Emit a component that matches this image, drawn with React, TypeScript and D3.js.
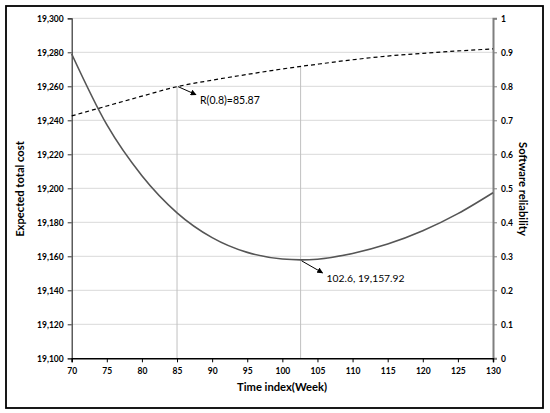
import React, { useEffect, useRef } from "react";
import * as d3 from "d3";

// time index (weeks) and the two series
const weeks = [70, 75, 80, 85, 90, 95, 100, 102.6, 105, 110, 115, 120, 125, 130];
const totalCost = [
  19279, 19237.4, 19207.4, 19185.6, 19171, 19162.3, 19158.4, 19157.92, 19158.3,
  19161.7, 19167.2, 19175, 19185.1, 19197.4,
];
const relWeeks = [70, 75, 80, 85, 90, 95, 100, 105, 110, 115, 120, 125, 130];
const reliability = [
  0.713, 0.742, 0.771, 0.799, 0.818, 0.835, 0.851, 0.865, 0.878, 0.889, 0.897,
  0.904, 0.91,
];
const costTicks = d3.range(19100, 19301, 20);
const relTicks = d3.range(0, 11).map((d) => d / 10);
const weekTicks = d3.range(70, 131, 5);

const relMark = { week: 85, label: "R(0.8)=85.87" };
const minMark = { week: 102.6, cost: 19157.92, label: "102.6, 19,157.92" };

const font = "Lato, 'Open Sans', sans-serif";

const App: React.FC = () => {
  const ref = useRef<SVGSVGElement | null>(null);

  useEffect(() => {
    const svg = d3.select(ref.current);
    svg.selectAll("*").remove();

    const left = 71.7;
    const right = 493;
    const top = 18.3;
    const bottom = 358.3;

    const x = d3.scaleLinear().domain([70, 130]).range([left, right]);
    const y = d3.scaleLinear().domain([19100, 19300]).range([bottom, top]);
    const yr = d3.scaleLinear().domain([0, 1]).range([bottom, top]);

    svg.append("rect").attr("width", 550).attr("height", 413).attr("fill", "#fff");
    svg
      .append("rect")
      .attr("x", 6)
      .attr("y", 6)
      .attr("width", 537)
      .attr("height", 402)
      .attr("fill", "none")
      .attr("stroke", "#000")
      .attr("stroke-width", 1.8);

    // horizontal gridlines
    svg
      .append("g")
      .selectAll("line")
      .data(costTicks.slice(1))
      .enter()
      .append("line")
      .attr("x1", left)
      .attr("x2", right)
      .attr("y1", (d) => y(d))
      .attr("y2", (d) => y(d))
      .attr("stroke", "#d9d9d9")
      .attr("stroke-width", 1);

    const relAt = d3.scaleLinear().domain(relWeeks).range(reliability);

    // marker drop lines
    [relMark.week, minMark.week].forEach((w) => {
      svg
        .append("line")
        .attr("x1", x(w))
        .attr("x2", x(w))
        .attr("y1", yr(relAt(w)))
        .attr("y2", bottom)
        .attr("stroke", "#c0c0c0")
        .attr("stroke-width", 1);
    });

    // axes
    const axisText = (g: d3.Selection<SVGGElement, unknown, null, undefined>) =>
      g
        .selectAll("text")
        .attr("font-family", font)
        .attr("font-weight", "bold")
        .attr("font-size", 8.5)
        .attr("fill", "#000");

    const gl = svg
      .append("g")
      .attr("transform", `translate(${left},0)`)
      .call(
        d3
          .axisLeft(y)
          .tickValues(costTicks)
          .tickSize(4)
          .tickPadding(4)
          .tickFormat((d) => d3.format(",")(d as number))
      );
    gl.select(".domain").attr("stroke", "#333").attr("stroke-width", 1.2);
    gl.selectAll(".tick line").attr("stroke", "#333");
    axisText(gl);

    const gr = svg
      .append("g")
      .attr("transform", `translate(${right},0)`)
      .call(
        d3
          .axisRight(yr)
          .tickValues(relTicks)
          .tickSize(4)
          .tickPadding(4)
          .tickFormat((d) => String(+(d as number).toFixed(1)))
      );
    gr.select(".domain").attr("stroke", "#7f7f7f").attr("stroke-width", 2);
    gr.selectAll(".tick line").attr("stroke", "#7f7f7f");
    axisText(gr);

    const gb = svg
      .append("g")
      .attr("transform", `translate(0,${bottom})`)
      .call(d3.axisBottom(x).tickValues(weekTicks).tickSize(4).tickPadding(6));
    gb.select(".domain").attr("stroke", "#000").attr("stroke-width", 1.5);
    gb.selectAll(".tick line").attr("stroke", "#000");
    axisText(gb);

    // series
    const costLine = d3
      .line<number>()
      .x((d, i) => x(weeks[i]))
      .y((d) => y(d))
      .curve(d3.curveMonotoneX);
    svg
      .append("path")
      .attr("d", costLine(totalCost))
      .attr("fill", "none")
      .attr("stroke", "#555")
      .attr("stroke-width", 1.6);

    const relLine = d3
      .line<number>()
      .x((d, i) => x(relWeeks[i]))
      .y((d) => yr(d))
      .curve(d3.curveMonotoneX);
    svg
      .append("path")
      .attr("d", relLine(reliability))
      .attr("fill", "none")
      .attr("stroke", "#000")
      .attr("stroke-width", 1.2)
      .attr("stroke-dasharray", "4,3");

    // annotation arrows
    const defs = svg.append("defs");
    defs
      .append("marker")
      .attr("id", "arrow")
      .attr("viewBox", "0 0 10 10")
      .attr("refX", 9)
      .attr("refY", 5)
      .attr("markerWidth", 6)
      .attr("markerHeight", 6)
      .attr("orient", "auto")
      .append("path")
      .attr("d", "M0,0L10,5L0,10Z")
      .attr("fill", "#000");

    const arrow = (x1: number, y1: number, x2: number, y2: number) =>
      svg
        .append("line")
        .attr("x1", x1)
        .attr("y1", y1)
        .attr("x2", x2)
        .attr("y2", y2)
        .attr("stroke", "#000")
        .attr("stroke-width", 1)
        .attr("marker-end", "url(#arrow)");

    const rx = x(relMark.week);
    const ry = yr(relAt(relMark.week));
    arrow(rx + 1, ry, rx + 19, ry + 8);
    svg
      .append("text")
      .attr("x", rx + 23)
      .attr("y", ry + 17)
      .attr("font-family", font)
      .attr("font-size", 10.5)
      .text(relMark.label);

    const mx = x(minMark.week);
    const my = y(minMark.cost);
    arrow(mx + 1, my + 1, mx + 22, my + 13);
    svg
      .append("text")
      .attr("x", mx + 26)
      .attr("y", my + 22)
      .attr("font-family", font)
      .attr("font-size", 10.3)
      .text(minMark.label);

    // axis titles
    const title = (t: string, tx: number, ty: number, rot: number) =>
      svg
        .append("text")
        .attr("transform", `translate(${tx},${ty}) rotate(${rot})`)
        .attr("text-anchor", "middle")
        .attr("font-family", font)
        .attr("font-weight", "bold")
        .attr("font-size", 11.2)
        .text(t);

    title("Time index(Week)", 282, 391, 0);
    title("Expected total cost", 24, 189, -90);
    title("Software reliability", 519, 189, 90);
  }, []);

  return (
    <svg
      ref={ref}
      width={550}
      height={413}
      style={{ position: "absolute", left: 0, top: 0 }}
    ></svg>
  );
};

export default App;
